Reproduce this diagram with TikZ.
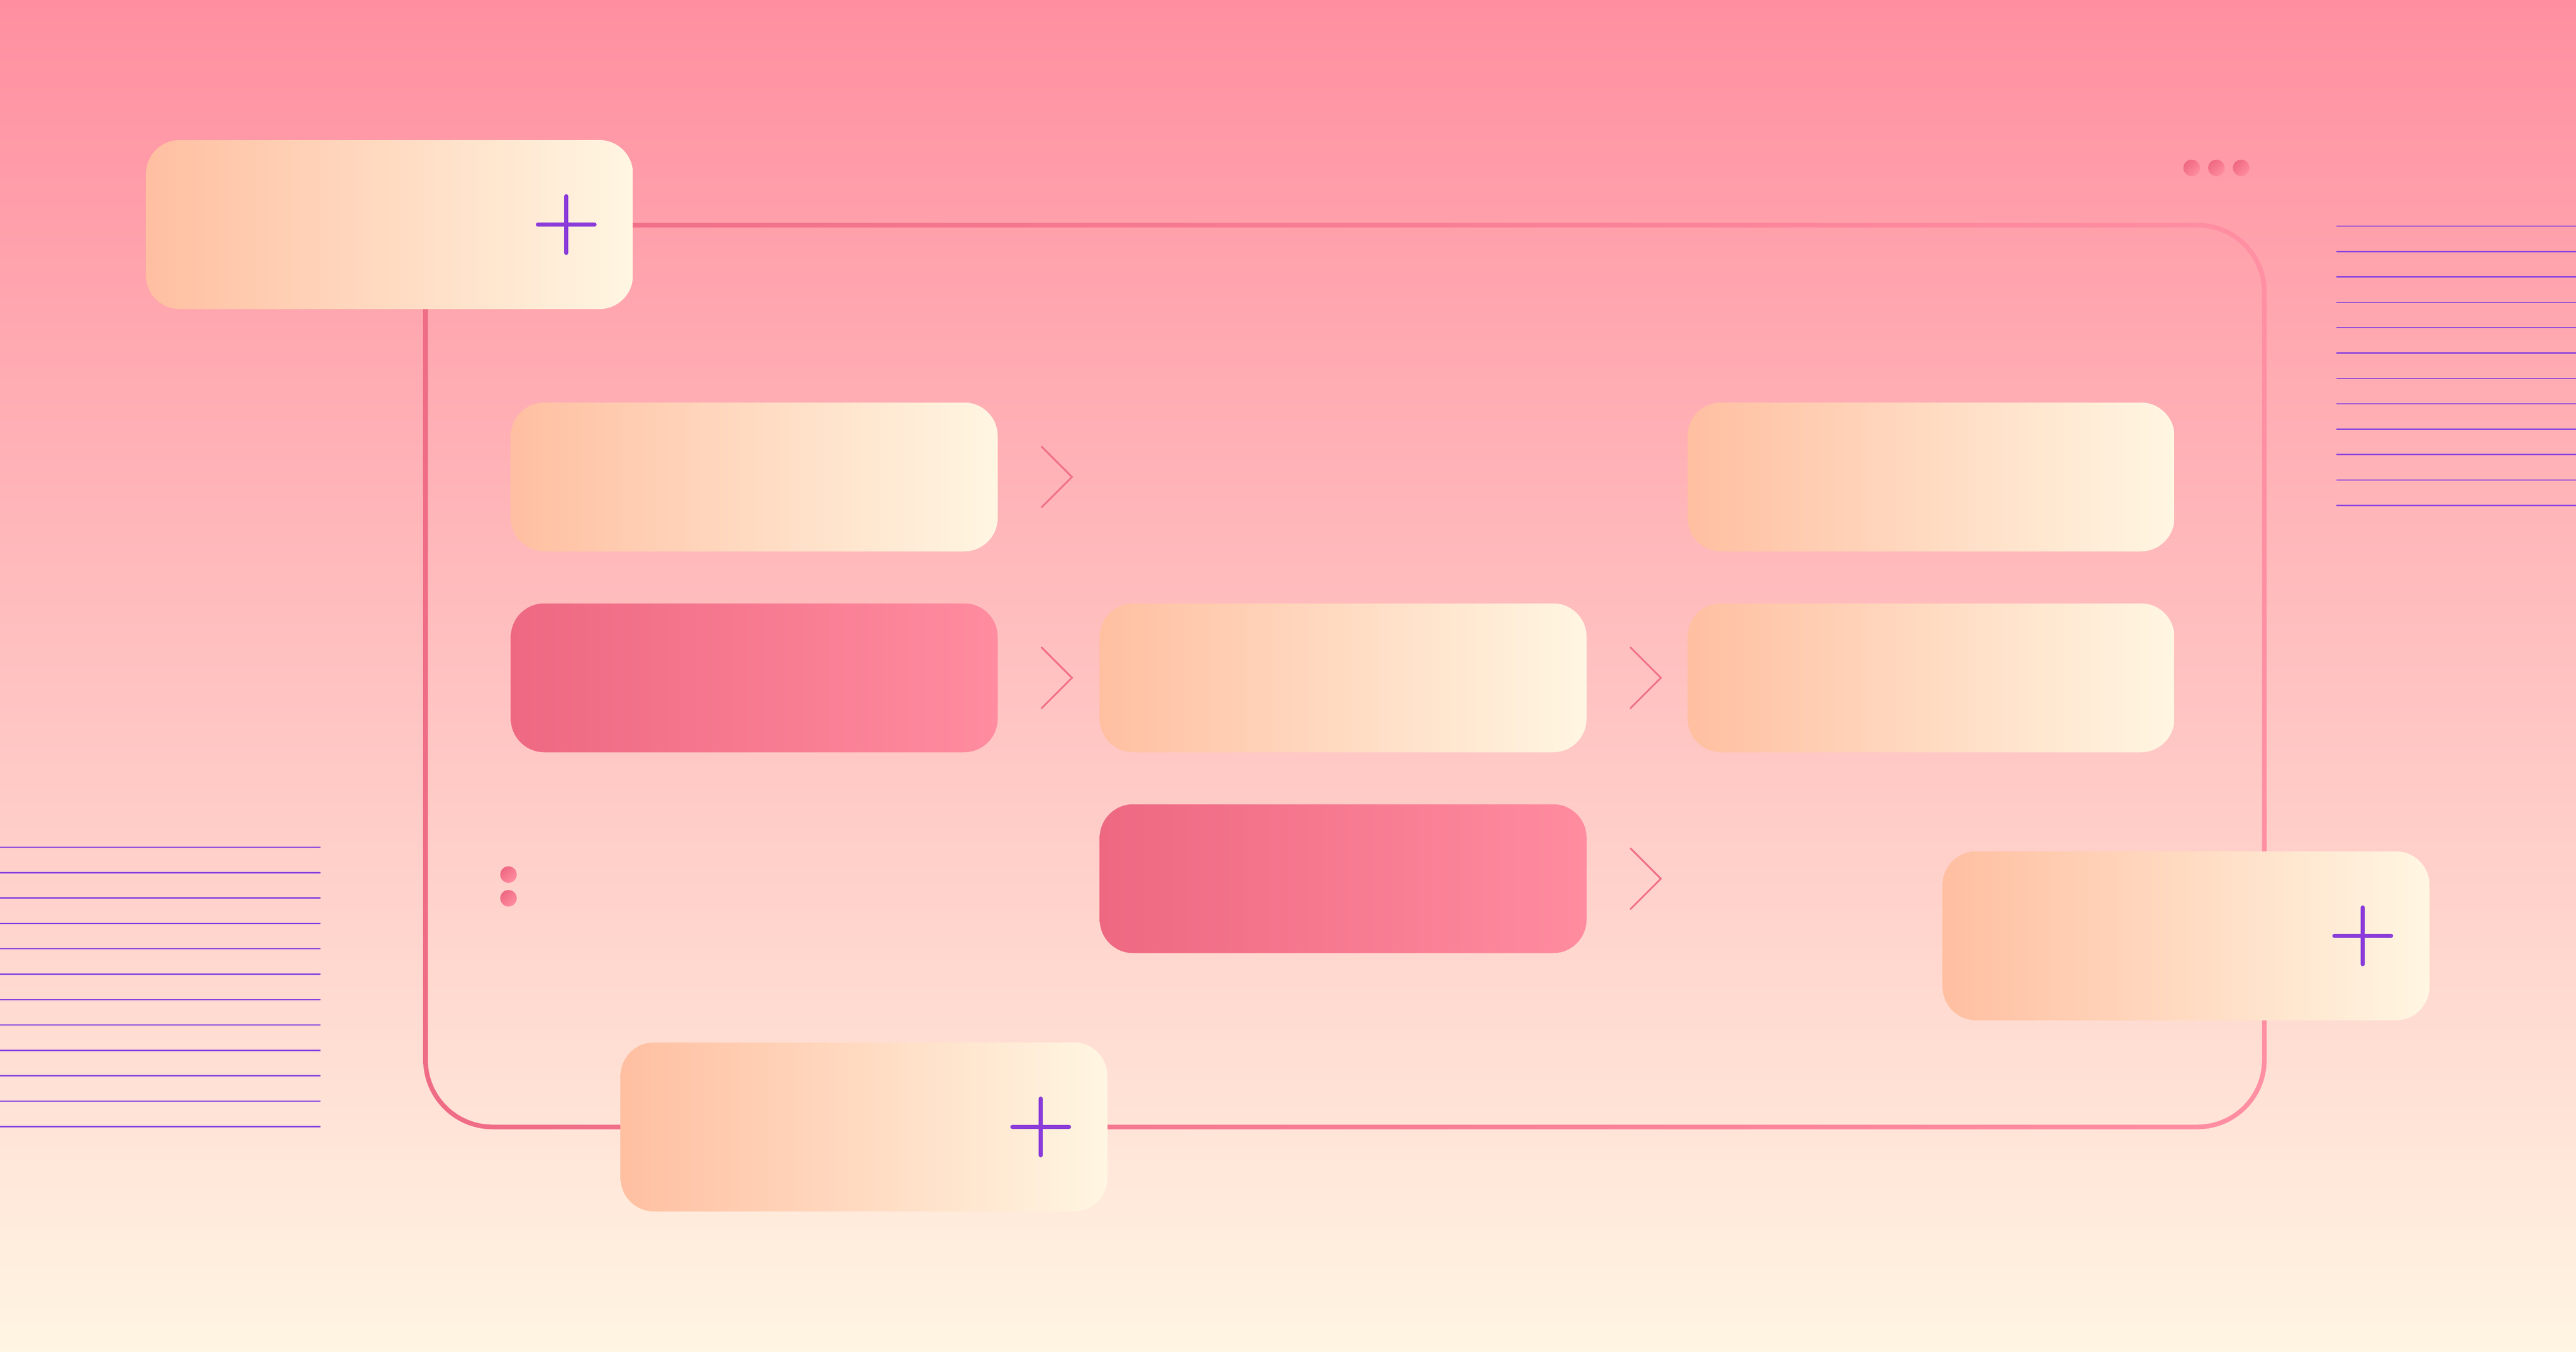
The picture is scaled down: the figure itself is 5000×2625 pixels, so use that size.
\documentclass[tikz,border=0pt]{standalone}

\definecolor{bgtop}{HTML}{FF8FA0}
\definecolor{bgbot}{HTML}{FFF5E2}
\definecolor{cardL}{HTML}{FFBFA1}
\definecolor{cardR}{HTML}{FFF6E2}
\definecolor{pinkL}{HTML}{EE6882}
\definecolor{pinkR}{HTML}{FF8CA0}
\definecolor{framedark}{HTML}{EF6C86}
\definecolor{framelight}{HTML}{FF8FA3}
\definecolor{chevc}{HTML}{F07089}
\definecolor{plusc}{HTML}{8A3BD9}
\definecolor{stripec}{HTML}{8B44E0}

\newcommand\addmark[1]{\draw[plus] ([xshift=288pt]#1.center) -- ([xshift=398pt]#1.center)
  ([xshift=343pt,yshift=55pt]#1.center) -- ([xshift=343pt,yshift=-55pt]#1.center);}
\newcommand\nextmark[1]{\draw[chev] ([xshift=85pt,yshift=59pt]#1.east) -- ([xshift=144pt]#1.east)
  -- ([xshift=85pt,yshift=-59pt]#1.east);}

\begin{document}
\begin{tikzpicture}[x=1pt, y=-1pt,
	card/.style={rectangle, draw=none, inner sep=0pt, rounded corners=65pt,
		left color=cardL, right color=cardR, minimum width=945pt, minimum height=289pt},
	pinkcard/.style={card, left color=pinkL, right color=pinkR},
	addcard/.style={card, minimum height=328pt},
	chev/.style={draw=chevc, line width=3.5pt, line cap=round},
	plus/.style={draw=plusc, line width=8pt, line cap=round},
	stripe/.style={draw=stripec, line width=2.5pt},
	dot/.style={top color=pinkL, bottom color=pinkR, shading angle=45}]

		% Background
		\useasboundingbox (0,0) rectangle (5000,2625);
		\shade[top color=bgtop, bottom color=bgbot] (0,0) rectangle (5000,2625);

		% Side stripes
		\foreach \i in {0,...,11} {
			\draw[stripe] (4535,{439+49.3*\i}) -- (5000,{439+49.3*\i});
			\draw[stripe] (0,{1645+49.3*\i}) -- (622,{1645+49.3*\i});
		}

		% Frame (a thin ring, shaded left to right)
		\shade[left color=framedark, right color=framelight, even odd rule]
			[rounded corners=134.5pt] (821.5,432.5) rectangle (4399.5,2192.5)
			[rounded corners=125.5pt] (830.5,441.5) rectangle (4390.5,2183.5);

		% Dots
		\foreach \x in {4254,4302,4350}
			\shade[dot] (\x,326) circle (16);
		\shade[dot] (987,1698) circle (16);
		\shade[dot] (987,1744) circle (16);

		% Cards with plus
		\node[addcard] (topadd) at (756,436) {};
		\node[addcard] (lowadd) at (1677,2188) {};
		\node[addcard] (sideadd) at (4243,1817) {};

		% Column 1
		\node[card] (r1c1) at (1464,926) {};
		\node[pinkcard] (r2c1) at (1464,1316) {};

		% Column 2
		\node[card] (r2c2) at (2607,1316) {};
		\node[pinkcard] (r3c2) at (2607,1706) {};

		% Column 3
		\node[card] (r1c3) at (3748,926) {};
		\node[card] (r2c3) at (3748,1316) {};

		% Marks
		\addmark{topadd}
		\addmark{lowadd}
		\addmark{sideadd}
		\nextmark{r1c1}
		\nextmark{r2c1}
		\nextmark{r2c2}
		\nextmark{r3c2}
	\end{tikzpicture}
\end{document}
